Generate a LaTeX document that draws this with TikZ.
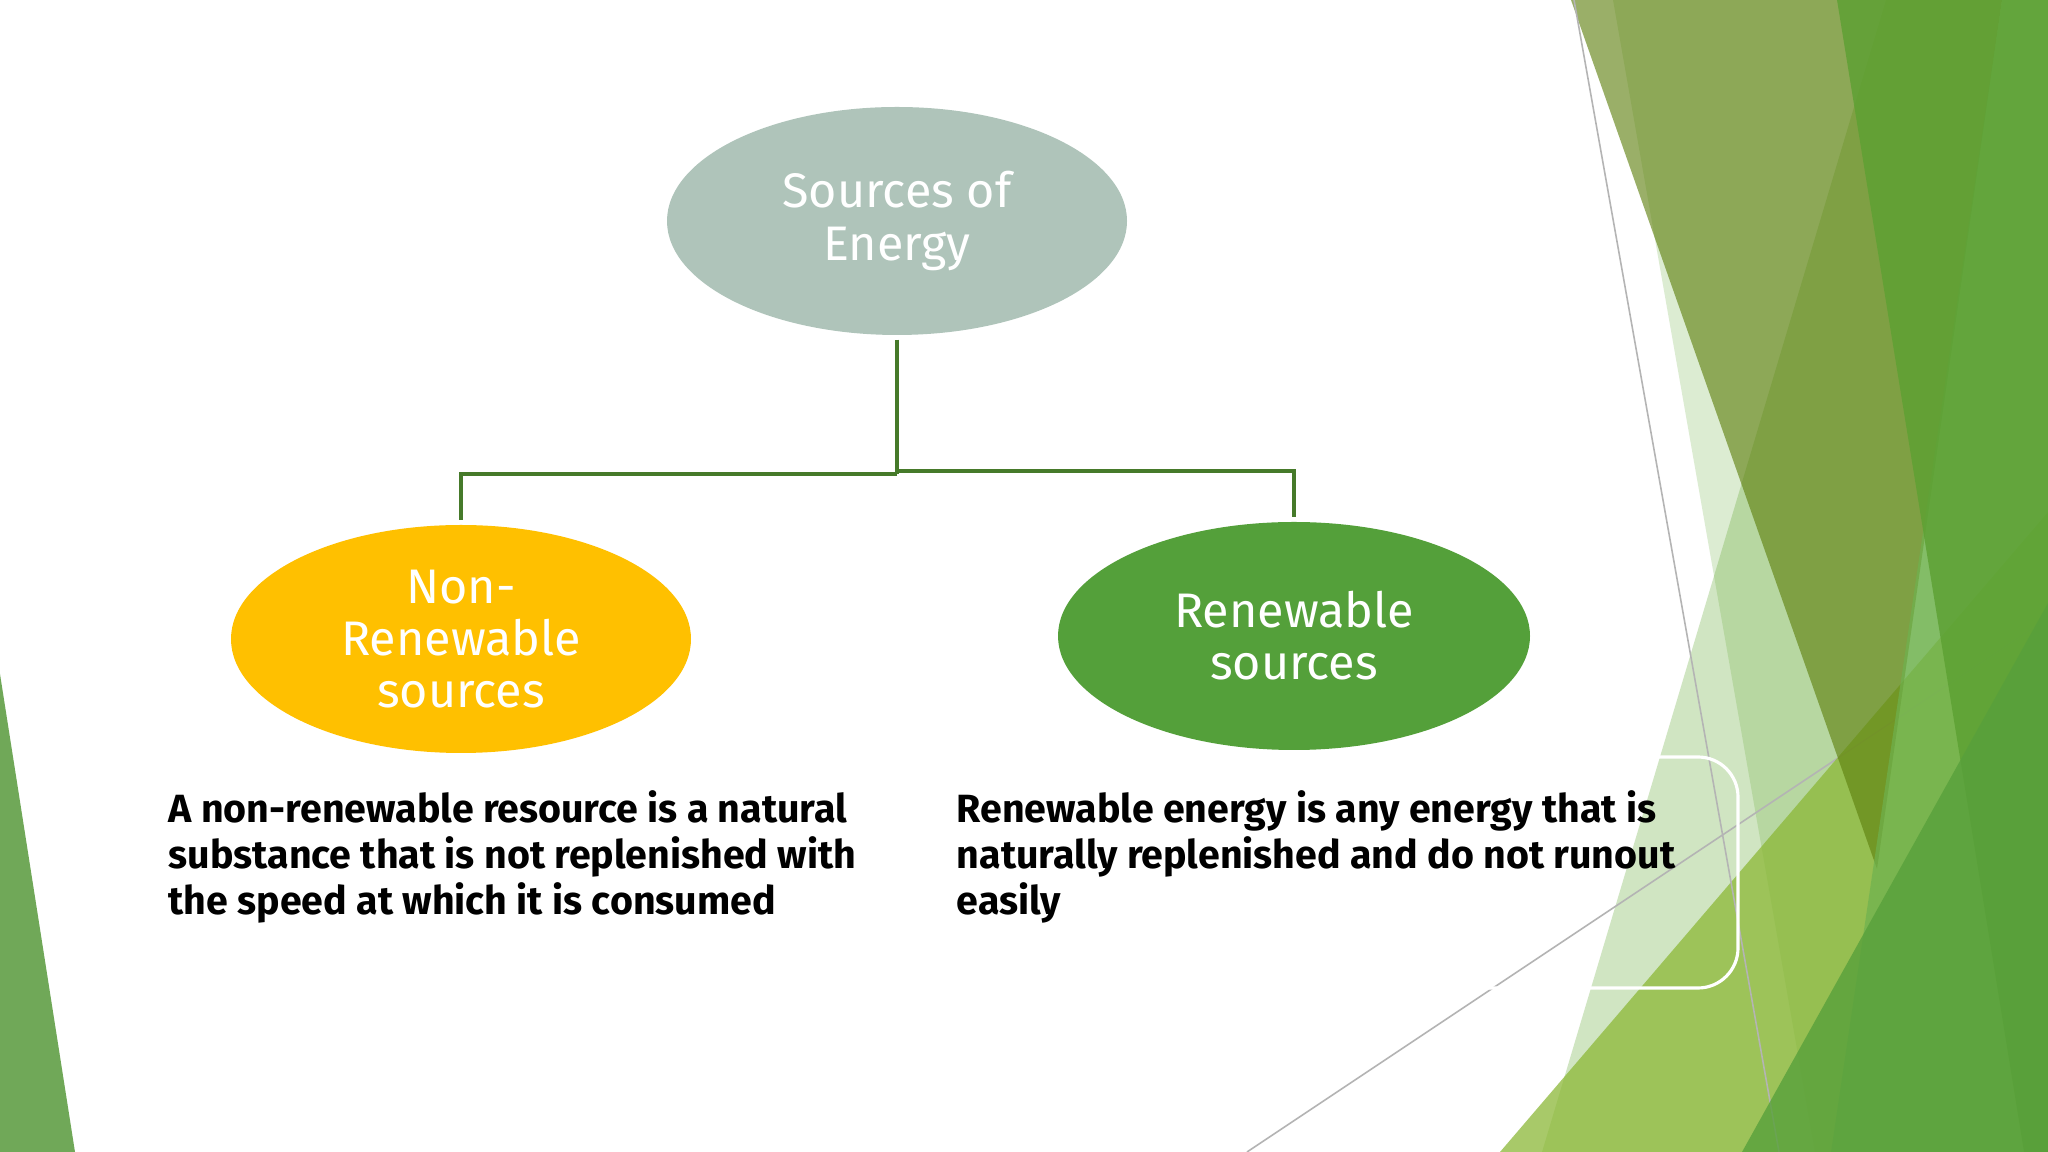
\documentclass[tikz,border=0pt]{standalone}
\usepackage{fontspec}
\setmainfont{Fira Sans}
\usepackage{xcolor}
\usetikzlibrary{shapes.geometric}
\definecolor{seRoot}{HTML}{AFC4BA}
\definecolor{seNonRen}{HTML}{FFC000}
\definecolor{seRen}{HTML}{54A03A}
\definecolor{seLink}{HTML}{467A2A}
\definecolor{seRule}{HTML}{B4B4B4}
\definecolor{seLeaf}{HTML}{54A021}
\definecolor{seLime}{RGB}{140,184,55}
\definecolor{seOlive}{RGB}{93,127,12}
\definecolor{seSpring}{RGB}{110,178,79}
\definecolor{seFern}{RGB}{92,160,50}
\definecolor{seForest}{RGB}{88,160,59}
\definecolor{seSliver}{RGB}{112,168,88}
\tikzset{
  se-bubble/.style={
    ellipse, minimum width=46mm, minimum height=22.8mm, inner sep=0pt,
    align=center, text=white, font=\fontsize{13.8}{14.8}\selectfont
  },
  se-text/.style={
    anchor=north west, inner sep=0pt, align=left,
    font=\bfseries\fontsize{11.2}{13.1}\selectfont
  },
  se-link/.style={draw=seLink, line width=0.9pt},
  se-rule/.style={draw=seRule, line width=0.45pt},
}

\begin{document}
\begin{tikzpicture}[x=0.1mm, y=-0.1mm]
  \useasboundingbox (0,0) rectangle (2048,1152);
  \fill[white] (0,0) rectangle (2048,1152);

  \fill[seSliver] (0,674) -- (75,1152) -- (0,1152) -- cycle;
  \fill[seLeaf, fill opacity=.27] (1886,0) -- (2048,0) -- (2048,1152) -- (1542,1152) -- cycle;
  \fill[seLeaf, fill opacity=.2] (1613,0) -- (2048,0) -- (2048,1152) -- (1815,1152) -- cycle;
  \draw[se-rule] (1247,1152) -- (2048,618);
  \fill[seLime, fill opacity=.75] (1500,1152) -- (2048,512) -- (2048,1152) -- cycle;
  \fill[seOlive, fill opacity=.62] (1571,0) -- (2002,0) -- (1877,869) -- cycle;
  \fill[seSpring, fill opacity=.7] (2002,0) -- (2048,0) -- (2048,1152) -- (1831,1152) -- cycle;
  \fill[seFern, fill opacity=.8] (1837,0) -- (2048,0) -- (2048,1152) -- (2024,1152) -- cycle;
  \draw[se-rule] (1574,0) -- (1779,1152);
  \fill[seForest, fill opacity=.8] (2048,603) -- (2048,1152) -- (1742,1152) -- cycle;
  \draw[white, line width=0.9pt, rounded corners=4mm] (940,757) rectangle (1738,988);

  \node[se-bubble, fill=seRoot]                        (src)    at (897,221) {Sources of\\Energy};
  \node[se-bubble, fill=seNonRen]                      (nonren) at (461,639) {Non-\\Renewable\\sources};
  \node[se-bubble, fill=seRen, minimum width=47.2mm]   (ren)    at (1294,636) {Renewable\\sources};

  \coordinate (forkL) at (897,474);
  \coordinate (forkR) at (897,471);
  \draw[se-link, shorten <=0.4mm] (src.south) -- (forkL);
  \draw[se-link, shorten >=0.4mm] (forkL) -| (nonren.north);
  \draw[se-link, shorten >=0.4mm] (forkR) -| (ren.north);

  \node[se-text] (nonrenTxt) at (168,790) {A non-renewable resource is a natural\\substance that is not replenished with\\the speed at which it is consumed};
  \node[se-text] (renTxt)    at (956,790) {Renewable energy is any energy that is\\naturally replenished and do not runout\\easily};
\end{tikzpicture}
\end{document}
